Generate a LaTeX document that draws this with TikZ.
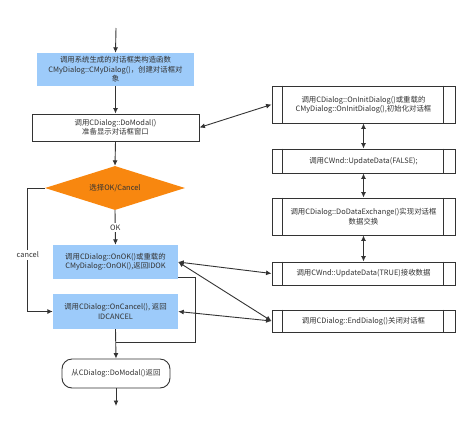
\documentclass[tikz,border=0pt]{standalone}
\usepackage{fontspec}
\setmainfont{Noto Sans CJK SC}
\usetikzlibrary{shapes.geometric,arrows.meta}
\definecolor{boxblue}{HTML}{9DCBFA}
\definecolor{dorange}{HTML}{F8870F}
\definecolor{ink}{HTML}{333333}
\begin{document}
\begin{tikzpicture}[x=1pt,y=-1pt,
  every node/.style={font=\fontsize{7.4}{9.4}\selectfont, text=ink, align=center, inner sep=1pt},
  conn/.style={draw=ink, line width=0.9pt},
  arr/.style={conn, -{Latex[length=5.5pt,width=5pt]}},
  darr/.style={conn, {Latex[length=5.5pt,width=5pt]}-{Latex[length=5.5pt,width=5pt]}},
  bluebox/.style={rectangle, fill=boxblue, draw=none},
  whitebox/.style={rectangle, draw=ink, line width=0.9pt, fill=white},
  procbox/.style={rectangle, draw=ink, line width=0.9pt, fill=white, minimum width=183pt}
]
\useasboundingbox (0,0) rectangle (474,424);
% left column
\coordinate (top) at (116,28);
\node[bluebox, minimum width=157pt, minimum height=33pt] (b1) at (115.5,69.5)
  {调用系统生成的对话框类构造函数\\CMyDialog::CMyDialog()，创建对话框对\\象};
\node[whitebox, minimum width=167pt, minimum height=27pt] (b2) at (115.5,127.5)
  {调用CDialog::DoModal()\\准备显示对话框窗口};
\node[diamond, fill=dorange, draw=none, minimum width=140pt, minimum height=44pt, aspect=3.2] (dia) at (115,188)
  {选择OK/Cancel};
\node[bluebox, minimum width=125pt, minimum height=34pt] (ok) at (115.5,262)
  {调用CDialog::OnOK()或重载的\\CMyDialog::OnOK(),返回IDOK};
\node[bluebox, minimum width=125pt, minimum height=35pt] (cancel) at (115.5,311.5)
  {调用CDialog::OnCancel(), 返回\\IDCANCEL};
\node[whitebox, rounded corners=10pt, minimum width=108pt, minimum height=29pt] (ret) at (116,373.5)
  {从CDialog::DoModal()返回};
\coordinate (bottom) at (116,406);
\coordinate (j) at (116,342);
% right column
\node[procbox, minimum height=37pt] (r1) at (363.5,104.5)
  {调用CDialog::OnInitDialog()或重载的\\CMyDialog::OnInitDialog(),初始化对话框};
\node[procbox, minimum height=24pt] (r2) at (363.5,161)
  {调用CWnd::UpdateData(FALSE);};
\node[procbox, minimum height=37pt] (r3) at (363.5,216.5)
  {调用CDialog::DoDataExchange()实现对话框\\数据交换};
\node[procbox, minimum height=23pt] (r4) at (363.5,273.5)
  {调用CWnd::UpdateData(TRUE)接收数据};
\node[procbox, minimum height=22pt] (r5) at (363.5,321)
  {调用CDialog::EndDialog()关闭对话框};
\foreach \n in {r1,r2,r3,r4,r5}{
  \draw[conn] ([xshift=11pt]\n.north west) -- ([xshift=11pt]\n.south west);
  \draw[conn] ([xshift=-12pt]\n.north east) -- ([xshift=-12pt]\n.south east);
}
% main flow
\draw[arr] (top) -- (b1.north);
\draw[arr] (b1.south) -- (b2.north);
\draw[arr] (b2.south) -- (dia.north);
\draw[arr] (dia.south) -- node[midway, fill=white, inner sep=2pt] {OK} (ok.north);
\draw[arr] (dia.west) -- ++(-17,0) |- node[pos=0.27, fill=white, inner sep=2pt] {cancel} (cancel.west);
\draw[conn] ([yshift=-15pt]ok.east) -- ++(17,0) |- (j);
\draw[arr] (cancel.south) -- (ret.north);
\draw[arr] (ret.south) -- (bottom);
% right links
\draw[darr] (b2.east) -- (r1.west);
\draw[darr] (r1.south) -- (r2.north);
\draw[darr] (r2.south) -- (r3.north);
\draw[darr] (r3.south) -- (r4.north);
\draw[darr] (ok.east) -- (r4.west);
\draw[darr] (ok.east) -- (r5.west);
\draw[darr] (cancel.east) -- (r5.west);
\end{tikzpicture}
\end{document}
